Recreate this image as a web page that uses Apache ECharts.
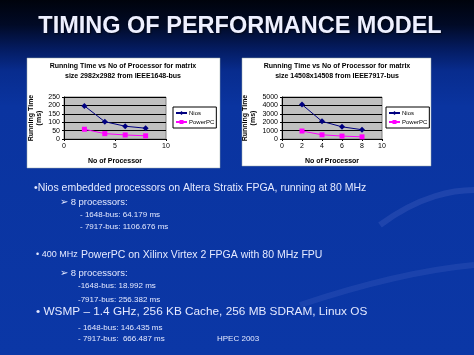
<!DOCTYPE html>
<html><head><meta charset="utf-8">
<script src="https://cdn.jsdelivr.net/npm/echarts@6/dist/echarts.min.js"></script>
<style>html,body{margin:0;padding:0;background:#0a34a0;}#c{width:474px;height:355px;}</style>
</head><body><div id="c"></div>
<script>
const processors = [2, 4, 6, 8];
const nios1648 = [197, 103, 76, 64.179];
const ppc1648 = [58, 32, 24, 18.992];
const nios7917 = [4100, 2100, 1450, 1106.676];
const ppc7917 = [950, 500, 350, 256.382];
const yTicks1 = {min: 0, max: 250, interval: 50};
const yTicks2 = {min: 0, max: 5000, interval: 1000};
const xTicks1 = {min: 0, max: 10, interval: 5};
const xTicks2 = {min: 0, max: 10, interval: 2};
const chartTitle1 = 'Running Time vs No of Processor for matrix\nsize 2982x2982 from IEEE1648-bus';
const chartTitle2 = 'Running Time vs No of Processor for matrix\nsize 14508x14508 from IEEE7917-bus';
const slideTitle = 'TIMING OF PERFORMANCE MODEL';

const F = 'Liberation Sans, Arial, sans-serif';
const TXT = '#e4e9ff';
const chart = echarts.init(document.getElementById('c'), null, {renderer: 'canvas'});

function pairs(xs, ys) { return xs.map((x, i) => [x, ys[i]]); }

function txt(x, y, text, size, extra) {
  return Object.assign({type: 'text', x: x, y: y, silent: true,
    style: {text: text, fill: TXT, font: size + 'px ' + F, textVerticalAlign: 'middle'}}, extra || {});
}

const axisLbl = {fontSize: 7, color: '#000', fontFamily: F, margin: 4, formatter: v => String(v)};
function xAx(idx, t) {
  return {type: 'value', gridIndex: idx, min: t.min, max: t.max, interval: t.interval,
    name: 'No of Processor', nameLocation: 'middle', nameGap: 19,
    nameTextStyle: {fontSize: 7, fontWeight: 'bold', color: '#000', fontFamily: F},
    axisLine: {lineStyle: {color: '#000', width: 1}}, axisTick: {show: true, length: 2, lineStyle: {color: '#000'}},
    axisLabel: axisLbl, splitLine: {show: false}};
}
function yAx(idx, t, gap) {
  return {type: 'value', gridIndex: idx, min: t.min, max: t.max, interval: t.interval,
    name: 'Running Time\n(ms)', nameLocation: 'middle', nameGap: gap, nameRotate: 90,
    nameTextStyle: {fontSize: 7, fontWeight: 'bold', color: '#000', fontFamily: F, lineHeight: 8},
    axisLine: {show: true, lineStyle: {color: '#000', width: 1}}, axisTick: {show: true, length: 2, lineStyle: {color: '#000'}},
    axisLabel: axisLbl, splitLine: {show: true, lineStyle: {color: '#000', width: 1}}};
}
function ser(name, idx, data, color, sym) {
  return {name: name, type: 'line', xAxisIndex: idx, yAxisIndex: idx, data: data,
    symbol: sym, symbolSize: sym === 'diamond' ? 6 : 5, showSymbol: true,
    lineStyle: {color: color, width: 1}, itemStyle: {color: color}, animation: false};
}
function leg(left, top) {
  return {data: ['Nios', 'PowerPC'], orient: 'vertical', left: left, top: top,
    itemWidth: 11, itemHeight: 5, itemGap: 3, padding: [3, 2, 3, 2],
    borderColor: '#000', borderWidth: 1, backgroundColor: '#fff',
    textStyle: {fontSize: 6, color: '#000', fontFamily: F, padding: [0, 0, 0, -3]}};
}

chart.setOption({
  animation: false,
  graphic: [
    {type: 'rect', shape: {x: 0, y: 0, width: 474, height: 355}, silent: true, z: -10,
      style: {fill: new echarts.graphic.LinearGradient(0, 0, 0, 1, [
        {offset: 0, color: '#00030c'}, {offset: 0.07, color: '#010a26'},
        {offset: 0.14, color: '#041c62'}, {offset: 0.2, color: '#082c8e'},
        {offset: 0.3, color: '#0a34a0'}, {offset: 1, color: '#0b37a6'}])}},
    {type: 'bezierCurve', silent: true, z: -9,
      shape: {x1: 380, y1: 225, x2: 474, y2: 190, cpx1: 420, cpy1: 195, cpx2: 455, cpy2: 190},
      style: {stroke: 'rgba(120,140,220,0.18)', lineWidth: 6, fill: null}},
    {type: 'bezierCurve', silent: true, z: -9,
      shape: {x1: 300, y1: 305, x2: 474, y2: 265, cpx1: 360, cpy1: 285, cpx2: 420, cpy2: 270},
      style: {stroke: 'rgba(120,140,220,0.15)', lineWidth: 6, fill: null}},
    {type: 'text', x: 240, y: 27, silent: true,
      style: {text: slideTitle, fill: '#eef0ff', font: 'bold 23.5px ' + F, textAlign: 'center', textVerticalAlign: 'middle',
        textShadowColor: 'rgba(0,0,0,0.6)', textShadowBlur: 2, textShadowOffsetX: 1, textShadowOffsetY: 1}},
    {type: 'rect', shape: {x: 27, y: 58, width: 193, height: 110}, silent: true, z: -5,
      style: {fill: '#fff', stroke: '#9aa', lineWidth: 0.5}},
    {type: 'rect', shape: {x: 242, y: 58, width: 189, height: 108}, silent: true, z: -5,
      style: {fill: '#fff', stroke: '#9aa', lineWidth: 0.5}},
    {type: 'text', x: 123, y: 71.5, silent: true,
      style: {text: chartTitle1, fill: '#000', font: 'bold 7px ' + F, textAlign: 'center', textVerticalAlign: 'middle', lineHeight: 10}},
    {type: 'text', x: 337, y: 71.5, silent: true,
      style: {text: chartTitle2, fill: '#000', font: 'bold 7px ' + F, textAlign: 'center', textVerticalAlign: 'middle', lineHeight: 10}},
    txt(34, 188, '•Nios embedded processors on Altera Stratix FPGA, running at 80 MHz', 10.5),
    txt(60, 202, '➢ 8 processors:', 9.5),
    txt(80, 215, '- 1648-bus: 64.179 ms', 8),
    txt(80, 227, '- 7917-bus: 1106.676 ms', 8),
    {type: 'text', x: 36, y: 255, silent: true,
      style: {text: '{s|• 400 MHz} {b|PowerPC on Xilinx Virtex 2 FPGA with 80 MHz FPU}', fill: TXT, textVerticalAlign: 'middle',
        rich: {s: {fontSize: 9, fontFamily: F, fill: TXT}, b: {fontSize: 10.5, fontFamily: F, fill: TXT}}}},
    txt(60, 273, '➢ 8 processors:', 9.5),
    txt(78, 286, '-1648-bus: 18.992 ms', 8),
    txt(78, 300, '-7917-bus: 256.382 ms', 8),
    txt(36, 312, '• WSMP – 1.4 GHz, 256 KB Cache, 256 MB SDRAM, Linux OS', 11.8),
    txt(78, 328, '- 1648-bus: 146.435 ms', 8),
    txt(78, 339, '- 7917-bus:  666.487 ms', 8),
    txt(217, 339, 'HPEC 2003', 8)
  ],
  grid: [
    {left: 64, top: 97, width: 102, height: 42, show: true, backgroundColor: '#c0c0c0', borderColor: '#808080', borderWidth: 1},
    {left: 282, top: 97, width: 100, height: 42, show: true, backgroundColor: '#c0c0c0', borderColor: '#808080', borderWidth: 1}
  ],
  xAxis: [xAx(0, xTicks1), xAx(1, xTicks2)],
  yAxis: [yAx(0, yTicks1, 21), yAx(1, yTicks2, 25)],
  legend: [leg(173, 107), leg(386, 107)],
  series: [
    ser('Nios', 0, pairs(processors, nios1648), '#000080', 'diamond'),
    ser('PowerPC', 0, pairs(processors, ppc1648), '#ff00ff', 'rect'),
    ser('Nios', 1, pairs(processors, nios7917), '#000080', 'diamond'),
    ser('PowerPC', 1, pairs(processors, ppc7917), '#ff00ff', 'rect')
  ]
});
</script></body></html>
